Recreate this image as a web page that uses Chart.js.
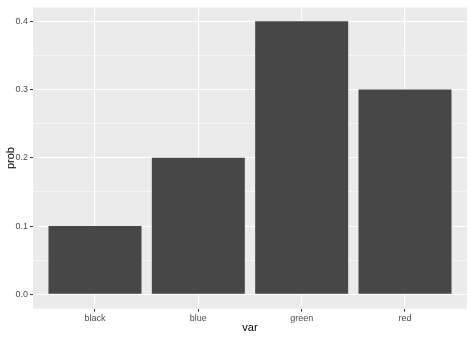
<!DOCTYPE html>
<html><head><meta charset="utf-8">
<script src="https://cdn.jsdelivr.net/npm/chart.js@4/dist/chart.umd.min.js"></script>
<style>html,body{margin:0;padding:0;background:#fff}#c{display:block}</style>
</head><body>
<canvas id="c" width="474" height="338"></canvas>
<script>
const categories = ['black', 'blue', 'green', 'red'];
const probValues = [0.1, 0.2, 0.4, 0.3];
const yTickValues = [0, 0.05, 0.1, 0.15, 0.2, 0.25, 0.3, 0.35, 0.4];

const panelBg = {
  id: 'panelBg',
  beforeDraw(chart) {
    const {ctx, chartArea: a} = chart;
    ctx.save();
    ctx.fillStyle = '#EBEBEB';
    ctx.fillRect(a.left, a.top, a.right - a.left, a.bottom - a.top);
    ctx.restore();
  }
};
const isMajor = v => Math.abs(Math.round(v * 10) - v * 10) < 1e-6;

new Chart(document.getElementById('c'), {
  type: 'bar',
  data: {
    datasets: [{
      data: categories.map((c, i) => ({x: i + 1, y: probValues[i]})),
      backgroundColor: '#474747',
      borderWidth: 0,
      barPercentage: 0.9,
      categoryPercentage: 1.0
    }]
  },
  options: {
    responsive: false,
    animation: false,
    events: [],
    layout: {padding: {left: 0, right: 7, top: 2.6, bottom: 0}},
    plugins: {legend: {display: false}, tooltip: {enabled: false}},
    scales: {
      x: {
        type: 'linear',
        offset: false,
        min: 0.4, max: 4.6,
        afterBuildTicks: s => { s.ticks = categories.map((c, i) => ({value: i + 1})); },
        afterFit: s => { s.height = 29.3; },
        border: {display: false},
        grid: {offset: false, color: '#FFFFFF', lineWidth: 1.1, tickColor: '#333333', tickLength: 3, tickWidth: 1},
        ticks: {
          autoSkip: false, maxRotation: 0, padding: 1,
          color: '#4D4D4D', font: {family: 'Liberation Sans', size: 9},
          callback: v => categories[Math.round(v) - 1]
        },
        title: {display: true, text: 'var', color: '#000', font: {family: 'Liberation Sans', size: 11}, padding: {top: 0, bottom: 3}}
      },
      y: {
        type: 'linear',
        min: -0.021, max: 0.4204,
        afterBuildTicks: s => { s.ticks = yTickValues.map(v => ({value: v})); },
        afterFit: s => { s.width = 33; },
        border: {display: false},
        grid: {
          color: '#FFFFFF',
          lineWidth: c => isMajor(c.tick.value) ? 1.1 : 0.55,
          tickColor: c => isMajor(c.tick.value) ? '#333333' : 'rgba(0,0,0,0)',
          tickLength: 3, tickWidth: 1
        },
        ticks: {
          autoSkip: false, padding: 2,
          color: '#4D4D4D', font: {family: 'Liberation Sans', size: 9},
          callback: v => isMajor(v) ? v.toFixed(1) : ''
        },
        title: {display: true, text: 'prob', color: '#000', font: {family: 'Liberation Sans', size: 11}, padding: {top: 4, bottom: 0}}
      }
    }
  },
  plugins: [panelBg]
});
</script>
</body></html>
